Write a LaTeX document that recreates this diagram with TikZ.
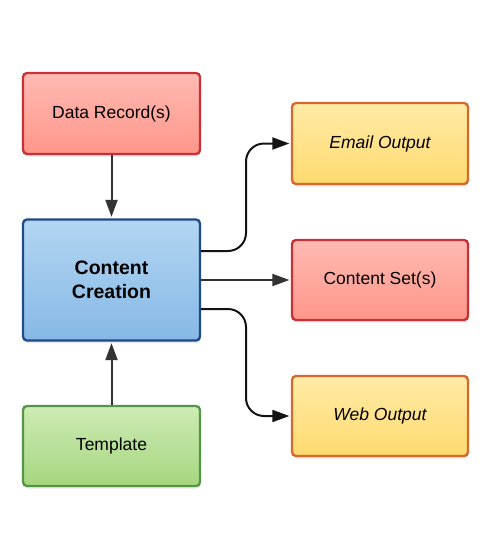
\documentclass[tikz,border=0pt]{standalone}
\usepackage{fontspec}
\setmainfont{Liberation Sans}
\usetikzlibrary{arrows.meta,shadows}
\definecolor{redT}{HTML}{FFBAB2}
\definecolor{redB}{HTML}{FF968A}
\definecolor{redD}{HTML}{C93038}
\definecolor{bluT}{HTML}{B3D6F2}
\definecolor{bluB}{HTML}{86B8E6}
\definecolor{bluD}{HTML}{1F4A87}
\definecolor{grnT}{HTML}{CDEBB5}
\definecolor{grnB}{HTML}{A6D67E}
\definecolor{grnD}{HTML}{569448}
\definecolor{ylwT}{HTML}{FFEBA6}
\definecolor{ylwB}{HTML}{FFDA70}
\definecolor{ylwD}{HTML}{D5692B}
\tikzset{
  box/.style={rectangle, rounded corners=4pt, line width=2.3pt, text=black,
    drop shadow={opacity=0.18, shadow xshift=0.8pt, shadow yshift=-2.5pt},
    font=\fontsize{17.5}{20}\selectfont, inner sep=0pt},
  redbox/.style={box, draw=redD, top color=redT, bottom color=redB},
  blubox/.style={box, draw=bluD, top color=bluT, bottom color=bluB},
  grnbox/.style={box, draw=grnD, top color=grnT, bottom color=grnB},
  ylwbox/.style={box, draw=ylwD, top color=ylwT, bottom color=ylwB},
  leftcol/.style={minimum width=177pt},
  rightcol/.style={minimum width=176pt},
  arr/.style={line width=2pt, draw=black!92, rounded corners=18pt,
    shorten >=1.5pt, -{Triangle[length=17pt,width=12pt]}},
  arrg/.style={line width=2pt, draw=black!80, shorten >=1.5pt,
    -{Triangle[length=17pt,width=12pt]}}
}
\begin{document}
\begin{tikzpicture}[x=1pt,y=-1pt]
\useasboundingbox (0,0) rectangle (492,560);
\node[redbox, leftcol, minimum height=81pt] (dr) at (111.5,113.5) {Data Record(s)};
\node[blubox, leftcol, minimum height=121pt, align=center,
  font=\fontsize{19.5}{24}\selectfont\bfseries] (cc) at (111.5,280) {Content\\Creation};
\node[grnbox, leftcol, minimum height=80pt] (tp) at (111.5,446) {Template};
\node[ylwbox, rightcol, minimum height=81pt, font=\fontsize{17.5}{20}\selectfont\itshape] (em) at (380,143.5) {Email Output};
\node[redbox, rightcol, minimum height=80pt] (cs) at (380,280) {Content Set(s)};
\node[ylwbox, rightcol, minimum height=80pt, font=\fontsize{17.5}{20}\selectfont\itshape] (wo) at (380,416) {Web Output};
\coordinate (mx) at (246,0);
\coordinate (o1) at ([yshift=29pt]cc.east);
\coordinate (o3) at ([yshift=-29pt]cc.east);
\draw[arrg] (dr.south) -- (cc.north);
\draw[arrg] (tp.north) -- (cc.south);
\draw[arr] (o1) -- (o1 -| mx) -- (mx |- em.west) -- (em.west);
\draw[arrg] (cc.east) -- (cs.west);
\draw[arr] (o3) -- (o3 -| mx) -- (mx |- wo.west) -- (wo.west);
\end{tikzpicture}
\end{document}
